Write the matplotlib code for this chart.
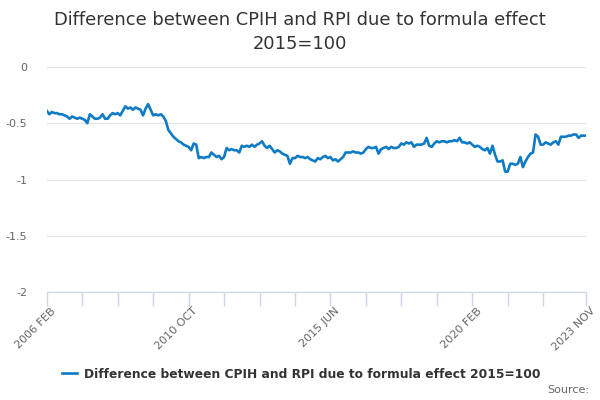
import matplotlib
matplotlib.use("Agg")
import matplotlib.pyplot as plt
import matplotlib.transforms as mtransforms
import pandas as pd

# monthly series, 2006 FEB .. 2023 NOV
months = pd.period_range("2006-02", "2023-11", freq="M")
formula_effect = [
    -0.39, -0.42, -0.40, -0.41, -0.41, -0.42, -0.42, -0.43, -0.44, -0.46,
    -0.44, -0.45, -0.46, -0.45, -0.46, -0.47, -0.50, -0.42, -0.44, -0.46,
    -0.46, -0.45, -0.42, -0.46, -0.46, -0.43, -0.41, -0.42, -0.41, -0.43,
    -0.39, -0.35, -0.37, -0.36, -0.38, -0.36, -0.37, -0.38, -0.43, -0.37,
    -0.33, -0.38, -0.43, -0.42, -0.43, -0.42, -0.44, -0.48, -0.56, -0.59,
    -0.62, -0.64, -0.66, -0.67, -0.69, -0.70, -0.71, -0.74, -0.68, -0.69,
    -0.81, -0.80, -0.81, -0.80, -0.80, -0.76, -0.78, -0.80, -0.79, -0.82,
    -0.80, -0.72, -0.74, -0.73, -0.74, -0.74, -0.76, -0.70, -0.71, -0.70,
    -0.71, -0.69, -0.71, -0.69, -0.68, -0.66, -0.70, -0.72, -0.70, -0.73,
    -0.76, -0.74, -0.75, -0.77, -0.78, -0.79, -0.86, -0.81, -0.81, -0.79,
    -0.80, -0.80, -0.81, -0.80, -0.82, -0.83, -0.84, -0.81, -0.82, -0.80,
    -0.79, -0.81, -0.80, -0.83, -0.82, -0.84, -0.82, -0.80, -0.76, -0.76,
    -0.76, -0.75, -0.76, -0.76, -0.77, -0.76, -0.73, -0.71, -0.72, -0.72,
    -0.71, -0.77, -0.73, -0.72, -0.71, -0.73, -0.71, -0.72, -0.72, -0.71,
    -0.68, -0.69, -0.67, -0.68, -0.67, -0.71, -0.69, -0.69, -0.69, -0.68,
    -0.63, -0.70, -0.71, -0.68, -0.66, -0.67, -0.66, -0.66, -0.67, -0.66,
    -0.66, -0.65, -0.66, -0.63, -0.67, -0.67, -0.68, -0.67, -0.69, -0.71,
    -0.70, -0.71, -0.73, -0.74, -0.72, -0.77, -0.70, -0.78, -0.84, -0.84,
    -0.83, -0.93, -0.93, -0.86, -0.86, -0.87, -0.86, -0.80, -0.89, -0.84,
    -0.80, -0.77, -0.76, -0.60, -0.62, -0.69, -0.69, -0.67, -0.68, -0.69,
    -0.67, -0.66, -0.69, -0.62, -0.62, -0.62, -0.61, -0.61, -0.60, -0.60,
    -0.63, -0.61, -0.61, -0.61,
]
labels = [m.strftime("%Y %b").upper() for m in months]
y_ticks = [0, -0.5, -1, -1.5, -2]
y_tick_labels = ["0", "-0.5", "-1", "-1.5", "-2"]
series_name = "Difference between CPIH and RPI due to formula effect 2015=100"

plt.rcParams["font.family"] = ["DejaVu Sans"]

fig = plt.figure(figsize=(6, 4), dpi=100)
ax = fig.add_axes([0.078, 0.27, 0.899, 0.5625])

x = list(range(len(formula_effect)))
line, = ax.plot(x, formula_effect, color="#0f7bc4", lw=1.9, solid_joinstyle="round",
                label=series_name)

ax.set_xlim(0, len(x) - 1)
ax.set_ylim(-2, 0)
ax.set_yticks(y_ticks)
ax.set_yticklabels(y_tick_labels)
ax.yaxis.grid(True, color="#e6e6e6", lw=1)
ax.set_axisbelow(True)
ax.tick_params(axis="y", length=0, labelsize=8, colors="#666666", pad=14)

major = [0, 56, 112, 168, len(x) - 1]
minor = [i for i in range(0, 200, 14) if i not in major]
ax.set_xticks(major)
ax.set_xticks(minor, minor=True)
ax.set_xticklabels([labels[i] for i in major])
ax.tick_params(axis="x", which="both", length=10, width=1, color="#ccd6eb",
               labelsize=8, labelcolor="#666666", pad=0, labelrotation=45)
shift = mtransforms.ScaledTranslation(4 / 100, 0, fig.dpi_scale_trans)
for lbl in ax.get_xticklabels():
    lbl.set_ha("right")
    lbl.set_rotation_mode("anchor")
    lbl.set_transform(lbl.get_transform() + shift)

for side in ["top", "right", "left"]:
    ax.spines[side].set_visible(False)
ax.spines["bottom"].set_color("#ccd6eb")

fig.text(0.5, 0.92, "Difference between CPIH and RPI due to formula effect\n2015=100",
         ha="center", va="center", fontsize=12.9, color="#333333", linespacing=1.45)

fig.legend(handles=[line], loc="center", bbox_to_anchor=(0.502, 0.065), frameon=False,
           handlelength=1.2, handletextpad=0.6, prop={"size": 8.85, "weight": "bold"},
           labelcolor="#333333")
fig.text(0.982, 0.025, "Source:", ha="right", va="center", fontsize=8, color="#666666")

fig.savefig("out.png", dpi=100)
